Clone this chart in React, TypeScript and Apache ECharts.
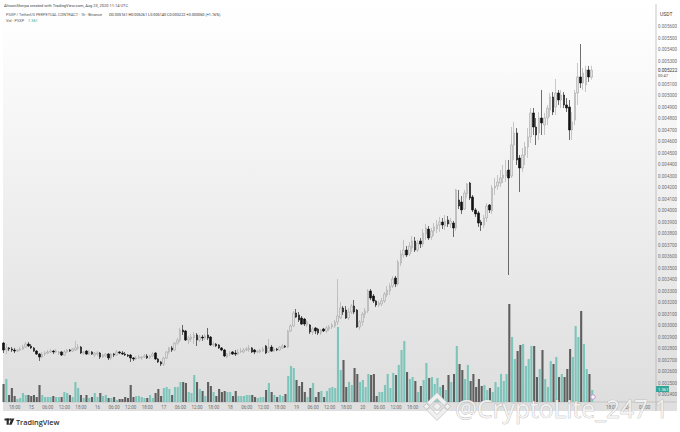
import React, { useEffect, useRef } from "react";
import * as echarts from "echarts";

// Prices in millionths of USDT, rows are [open, close, low, high]
const candlesAug14to16: number[][] = [
  [2848,2787,2761,2857],[2787,2805,2752,2839],[2805,2796,2778,2813],[2796,2787,2770,2813],[2787,2778,2761,2805],
  [2778,2787,2770,2796],[2787,2796,2778,2813],[2796,2813,2787,2831],[2813,2839,2805,2857],[2839,2822,2813,2857],
  [2822,2805,2796,2839],[2805,2778,2770,2813],[2778,2752,2744,2787],[2752,2726,2692,2761],[2726,2752,2718,2770],
  [2752,2761,2735,2778],[2761,2770,2752,2787],[2770,2778,2761,2796],[2778,2770,2752,2787],[2770,2778,2761,2796],
  [2761,2770,2744,2778],[2770,2744,2735,2778],[2744,2770,2735,2787],[2770,2787,2761,2796],[2787,2778,2770,2796],
  [2778,2796,2770,2805],[2787,2805,2778,2866],[2805,2813,2787,2839],[2813,2761,2752,2822],[2761,2770,2744,2778],
  [2778,2752,2744,2787],[2752,2770,2744,2787],[2770,2752,2744,2778],[2744,2761,2726,2770],[2752,2761,2735,2778],
  [2761,2726,2709,2770],[2726,2744,2718,2752],[2735,2752,2726,2761],[2752,2718,2700,2761],[2718,2752,2700,2761],
  [2752,2744,2726,2761],[2744,2770,2735,2787],[2770,2761,2752,2778],[2761,2752,2744,2778],[2752,2744,2735,2770],
  [2744,2735,2726,2752],[2744,2718,2683,2752],[2718,2709,2692,2726],[2709,2718,2700,2735],[2718,2726,2709,2744],
];
const candlesAug16to18: number[][] = [
  [2718,2726,2700,2735],[2726,2735,2718,2752],[2735,2718,2709,2752],[2718,2735,2709,2744],[2735,2752,2726,2770],
  [2761,2709,2700,2770],[2709,2683,2674,2718],[2683,2665,2648,2692],[2665,2718,2648,2726],[2718,2770,2709,2778],
  [2770,2805,2752,2813],[2805,2787,2770,2822],[2787,2848,2778,2857],[2848,2874,2831,2892],[2874,2961,2857,2979],
  [2961,2944,2918,3005],[2953,2874,2866,2961],[2874,2892,2839,2909],[2883,2900,2857,2926],[2892,2918,2839,2944],
  [2918,2874,2822,2935],[2874,2900,2857,2918],[2900,2892,2866,2918],[2892,2909,2874,2926],[2918,2892,2874,2979],
  [2900,2831,2822,2909],[2831,2839,2813,2857],[2839,2822,2813,2848],[2831,2805,2796,2839],[2805,2787,2778,2813],
  [2787,2735,2726,2796],[2726,2752,2718,2761],[2752,2761,2735,2778],[2770,2752,2744,2778],[2761,2752,2735,2787],
  [2752,2770,2744,2796],[2770,2778,2761,2805],[2770,2787,2761,2805],[2787,2796,2778,2813],[2787,2805,2770,2831],
  [2805,2770,2761,2813],[2787,2770,2752,2796],[2770,2778,2761,2787],[2770,2787,2761,2796],[2778,2796,2770,2813],
  [2822,2761,2752,2831],[2770,2805,2761,2883],[2813,2778,2770,2831],[2778,2796,2770,2813],[2796,2787,2778,2805],
];
const candlesAug18to20: number[][] = [
  [2787,2813,2778,2822],[2805,2822,2796,2839],[2822,2813,2805,2831],[2813,2953,2805,2961],[2953,2996,2944,3013],
  [2996,3109,2987,3127],[3109,3074,3066,3144],[3092,3048,3031,3118],[3066,3013,3005,3083],[3057,3013,2996,3066],
  [3005,3031,2987,3048],[3005,2944,2926,3013],[2944,2970,2918,2987],[2979,2953,2926,2987],[2970,2935,2918,2979],
  [2935,2961,2918,2970],[2970,2953,2944,2979],[2953,2979,2935,2996],[2970,2987,2953,3005],[2987,3005,2970,3022],
  [2996,3031,2979,3048],[3031,3083,3005,3405],[3066,3153,3057,3205],[3153,3118,3092,3170],[3135,3066,3057,3170],
  [3066,3118,3048,3153],[3118,3170,3100,3188],[3170,3118,3100,3222],[3135,2987,2979,3144],[2987,3031,2961,3048],
  [3031,3100,2996,3118],[3100,3127,3066,3153],[3127,3301,3109,3318],[3301,3240,3222,3318],[3257,3214,3196,3275],
  [3214,3179,3161,3222],[3179,3196,3161,3214],[3188,3214,3170,3240],[3214,3275,3196,3292],[3266,3309,3248,3344],
  [3301,3344,3266,3370],[3344,3405,3327,3431],[3414,3362,3335,3431],[3362,3553,3344,3570],[3544,3623,3518,3657],
  [3614,3657,3588,3745],[3657,3614,3596,3692],[3623,3692,3605,3727],[3675,3736,3640,3779],[3736,3657,3640,3771],
];
const candlesAug20to22: number[][] = [
  [3657,3718,3640,3745],[3736,3710,3675,3762],[3710,3805,3684,3840],[3797,3849,3745,3884],[3840,3762,3745,3866],
  [3771,3823,3745,3849],[3823,3858,3779,3892],[3840,3875,3805,3919],[3875,3901,3814,3945],[3901,3875,3840,3936],
  [3866,3910,3832,3962],[3919,3884,3858,3953],[3884,3910,3849,3936],[3892,3849,3771,3910],[3849,4180,3823,4189],
  [4093,4040,4014,4180],[4075,4006,3971,4127],[4014,4154,4006,4180],[4145,4232,4110,4240],[4240,4110,4093,4249],
  [4119,4006,3988,4136],[4006,3971,3945,4023],[3980,3892,3858,3997],[3901,3875,3823,3919],[3875,3936,3849,3962],
  [3936,4040,3901,4066],[4049,4006,3980,4058],[3997,4197,3971,4223],[4197,4214,4136,4284],[4214,4249,4180,4310],
  [4240,4284,4205,4354],[4284,4310,4240,4397],[4301,4345,4249,4441],[4354,4284,3440,4441],
];
const candlesAug22to23: number[][] = [
  [4301,4571,4284,4728],[4571,4675,4441,4771],[4676,4441,4397,4719],[4458,4371,4162,4484],[4371,4484,4336,4545],
  [4484,4554,4397,4597],[4554,4641,4458,4719],[4641,4850,4589,4893],[4850,4728,4658,4893],[4728,4658,4571,4806],
  [4676,4806,4615,4858],[4806,4763,4658,5050],[4745,4806,4658,4850],[4806,4893,4745,4920],[4876,4989,4815,5024],
  [4989,4858,4832,5032],[4902,5024,4832,5145],[5024,4963,4920,5050],[4963,5006,4893,5050],[5006,4920,4893,5032],
  [4920,4893,4858,4980],[4902,4702,4615,4963],[4702,4771,4615,4858],[4789,5024,4745,5050],[5024,5163,4920,5285],
  [5163,5111,5067,5450],[5111,5198,5050,5241],[5094,5224,5032,5259],[5224,5163,5120,5259],[5161,5222,5140,5261],
];
const volumes: number[] = [
  18,23,7,14,6,3,4,9,7,7, 6,7,5,17,7,5,5,5,6,5, 5,5,10,9,7,5,20,14,7,4, 7,4,5,9,5,9,6,7,4,4,
  5,2,3,3,5,4,17,5,6,6, 5,4,4,7,4,9,13,6,14,15, 13,7,15,15,20,20,19,10,9,27, 20,13,11,6,20,16,10,6,13,10,
  11,10,10,6,11,6,6,6,7,7, 7,5,4,5,5,12,19,10,7,5, 7,6,8,26,36,34,22,16,20,10, 5,14,19,5,10,11,5,11,14,15,
  14,75,32,42,15,20,17,34,28,20, 22,15,28,27,28,6,10,10,17,28, 14,29,27,37,52,61,30,23,25,21,
  10,16,22,39,24,25,18,24,15,17, 12,27,20,28,56,38,32,23,37,21, 28,15,23,16,17,12,14,10,20,15,
  28,21,28,98,65,43,51,57,58,36, 43,56,56,25,33,52,23,15,41,38, 45,25,28,25,33,53,45,76,65,91, 58,33,28,12,
];
// Empty entries are the ticks hidden under the watermark in the reference
const timeTickLabels: string[] = [
  "18:00","15","06:00","12:00","18:00","16","06:00","12:00","18:00","17","06:00","12:00","18:00","18",
  "06:00","12:00","18:00","19","06:00","12:00","18:00","20","06:00","12:00","18:00","","","",
  "","","","","","","","","18:00","24","06:00",
];
const hiddenPriceTicks: string[] = ["0.005800", "0.005700", "0.005200"];

const TOTAL_SLOTS = 236;
const FIRST_TICK = 4;
const TICK_STEP = 6;
const UP_BODY = "#e2e2e2";
const UP_LINE = "#a6a6a6";
const DOWN = "#111111";
const VOL_UP = "#7dc4ba";
const VOL_DOWN = "#5f5f5f";
const AXIS_TEXT = "#6f6f6f";
const FONT = "Roboto";

const candles = [
  ...candlesAug14to16, ...candlesAug16to18, ...candlesAug18to20, ...candlesAug20to22, ...candlesAug22to23,
];

export default function App() {
  const ref = useRef<HTMLDivElement>(null);
  useEffect(() => {
    document.body.style.margin = "0";
    document.body.style.background = "#fff";
    const chart = echarts.init(ref.current!, undefined, { renderer: "svg" });
    const categories = Array.from({ length: TOTAL_SLOTS }, (_, i) =>
      i >= FIRST_TICK && (i - FIRST_TICK) % TICK_STEP === 0
        ? timeTickLabels[(i - FIRST_TICK) / TICK_STEP] ?? ""
        : ""
    );
    const priceData = candles.map((r) => r.map((v) => v / 1e6));
    const volData = volumes.map((v, i) => ({
      value: v,
      itemStyle: { color: candles[i][1] >= candles[i][0] ? VOL_UP : VOL_DOWN },
    }));
    const txt = (x: number, y: number, text: string, fontSize: number, fill: string, extra: any = {}) => ({
      type: "text", x, y, z: 50, silent: true,
      style: { text, fontSize, fill, fontFamily: FONT, verticalAlign: "middle", ...extra },
    });
    const wmStyle = { fill: "#f0f0f0", stroke: "#b4b4b4", lineWidth: 0.6 };
    chart.setOption({
      animation: false,
      backgroundColor: "#ffffff",
      grid: [
        { left: 2.2, width: 652.2, top: 3.8, height: 390.7 },
        { left: 2.2, width: 652.2, top: 300, height: 102 },
      ],
      xAxis: [
        { type: "category", gridIndex: 0, data: categories, show: false },
        {
          type: "category", gridIndex: 1, data: categories,
          axisLine: { show: false }, axisTick: { show: false },
          axisLabel: { interval: 0, color: AXIS_TEXT, fontSize: 4.5, fontFamily: FONT, margin: 2.5, hideOverlap: false },
        },
      ],
      yAxis: [
        {
          type: "value", gridIndex: 0, position: "right", min: 0.0024, max: 0.0058, interval: 0.0001,
          offset: 1.6, splitLine: { show: false }, axisLine: { show: false }, axisTick: { show: false },
          axisLabel: {
            color: AXIS_TEXT, fontSize: 4.5, fontFamily: FONT, margin: 3,
            formatter: (v: number) => {
              const s = v.toFixed(6);
              return hiddenPriceTicks.includes(s) ? "" : s;
            },
          },
        },
        { type: "value", gridIndex: 1, min: 0, max: 102, show: false },
      ],
      series: [
        {
          type: "bar", xAxisIndex: 1, yAxisIndex: 1, data: volData, barWidth: 2.1, z: 2,
        },
        {
          type: "candlestick", xAxisIndex: 0, yAxisIndex: 0, data: priceData, barWidth: 2, z: 3,
          itemStyle: {
            color: UP_BODY, color0: DOWN, borderColor: UP_LINE, borderColor0: DOWN, borderWidth: 0.6,
          },
        },
      ],
      graphic: [
        {
          type: "rect", z: -10, silent: true, shape: { x: 3, y: 4, width: 674, height: 398 },
          style: {
            fill: {
              type: "linear", x: 0, y: 0, x2: 0, y2: 1,
              colorStops: [{ offset: 0, color: "#ffffff" }, { offset: 0.08, color: "#fdfdfd" }, { offset: 1, color: "#dedede" }],
            },
          },
        },
        { type: "rect", z: -10, silent: true, shape: { x: 3, y: 402, width: 674, height: 9 }, style: { fill: "#dfdfdf" } },
        { type: "line", z: 1, silent: true, shape: { x1: 656, y1: 4, x2: 656, y2: 411 }, style: { stroke: "#b0b0b0", lineWidth: 0.7 } },
        { type: "line", z: 1, silent: true, shape: { x1: 3, y1: 402, x2: 677, y2: 402 }, style: { stroke: "#bcbcbc", lineWidth: 0.7 } },

        txt(4, 5, "AltcoinSherpa created with TradingView.com, Aug 23, 2020 11:14 UTC", 4, "#444444"),
        txt(6, 14, "PSXP / TetherUS PERPETUAL CONTRACT · 1h · Binance", 3.9, "#555555"),
        txt(109, 14, "O0.005161 H0.005261 L0.005140 C0.005222 +0.000060 (+1.16%)", 3.8, "#333333"),
        txt(6, 20, "Vol · PSXP", 3.9, "#555555"),
        txt(28, 20, "1.361", 3.9, "#26a69a"),
        txt(660, 14, "USDT", 5, "#444444"),
        txt(658, 70.6, "0.005222", 4.6, "#333333"),
        txt(658, 75.4, "00:47", 4, "#555555"),
        { type: "rect", z: 50, silent: true, shape: { x: 656, y: 386, width: 13, height: 6 }, style: { fill: "#35a597" } },
        txt(658, 389, "1.361", 4.2, "#ffffff"),
        {
          type: "circle", z: 50, silent: true, shape: { cx: 593, cy: 397, r: 2.2 },
          style: { fill: "#ffffff", stroke: "#c694d8", lineWidth: 1 },
        },

        { type: "rect", z: 50, silent: true, shape: { x: 4.5, y: 418.5, width: 5, height: 2 }, style: { fill: "#2a2a2a" } },
        { type: "rect", z: 50, silent: true, shape: { x: 6.6, y: 418.5, width: 2.2, height: 6.2 }, style: { fill: "#2a2a2a" } },
        { type: "circle", z: 50, silent: true, shape: { cx: 10.4, cy: 419.4, r: 1 }, style: { fill: "#2a2a2a" } },
        { type: "polygon", z: 50, silent: true, shape: { points: [[11.6, 418.5], [14.4, 418.5], [11.6, 424.7], [9, 424.7]] }, style: { fill: "#2a2a2a" } },
        txt(16, 421.6, "TradingView", 7.3, "#2f2f2f", { fontWeight: 600, fontFamily: "Open Sans" }),

        // Reposted watermark over the chart's lower right corner
        {
          type: "polygon", z: 60, silent: true,
          shape: { points: [[437, 392.5], [447, 402.5], [444, 405.5], [437, 398.5], [430, 405.5], [427, 402.5]] },
          style: wmStyle,
        },
        {
          type: "polygon", z: 60, silent: true,
          shape: { points: [[437, 420.5], [447, 410.5], [444, 407.5], [437, 414.5], [430, 407.5], [427, 410.5]] },
          style: wmStyle,
        },
        { type: "polygon", z: 60, silent: true, shape: { points: [[437, 402.5], [441, 406.5], [437, 410.5], [433, 406.5]] }, style: wmStyle },
        { type: "polygon", z: 60, silent: true, shape: { points: [[426.5, 403.5], [429.5, 406.5], [426.5, 409.5], [423.5, 406.5]] }, style: wmStyle },
        { type: "polygon", z: 60, silent: true, shape: { points: [[447.5, 403.5], [450.5, 406.5], [447.5, 409.5], [444.5, 406.5]] }, style: wmStyle },
        {
          type: "text", z: 60, silent: true, x: 455, y: 408,
          style: {
            text: "@CryptoLite_247 1", fontSize: 24.6, fontFamily: "Open Sans", verticalAlign: "middle",
            fill: "rgba(244,244,244,0.92)", stroke: "rgba(150,150,150,0.8)", lineWidth: 0.6,
          },
        },
      ],
    });
    return () => chart.dispose();
  }, []);
  return <div ref={ref} style={{ width: 680, height: 432 }} />;
}
